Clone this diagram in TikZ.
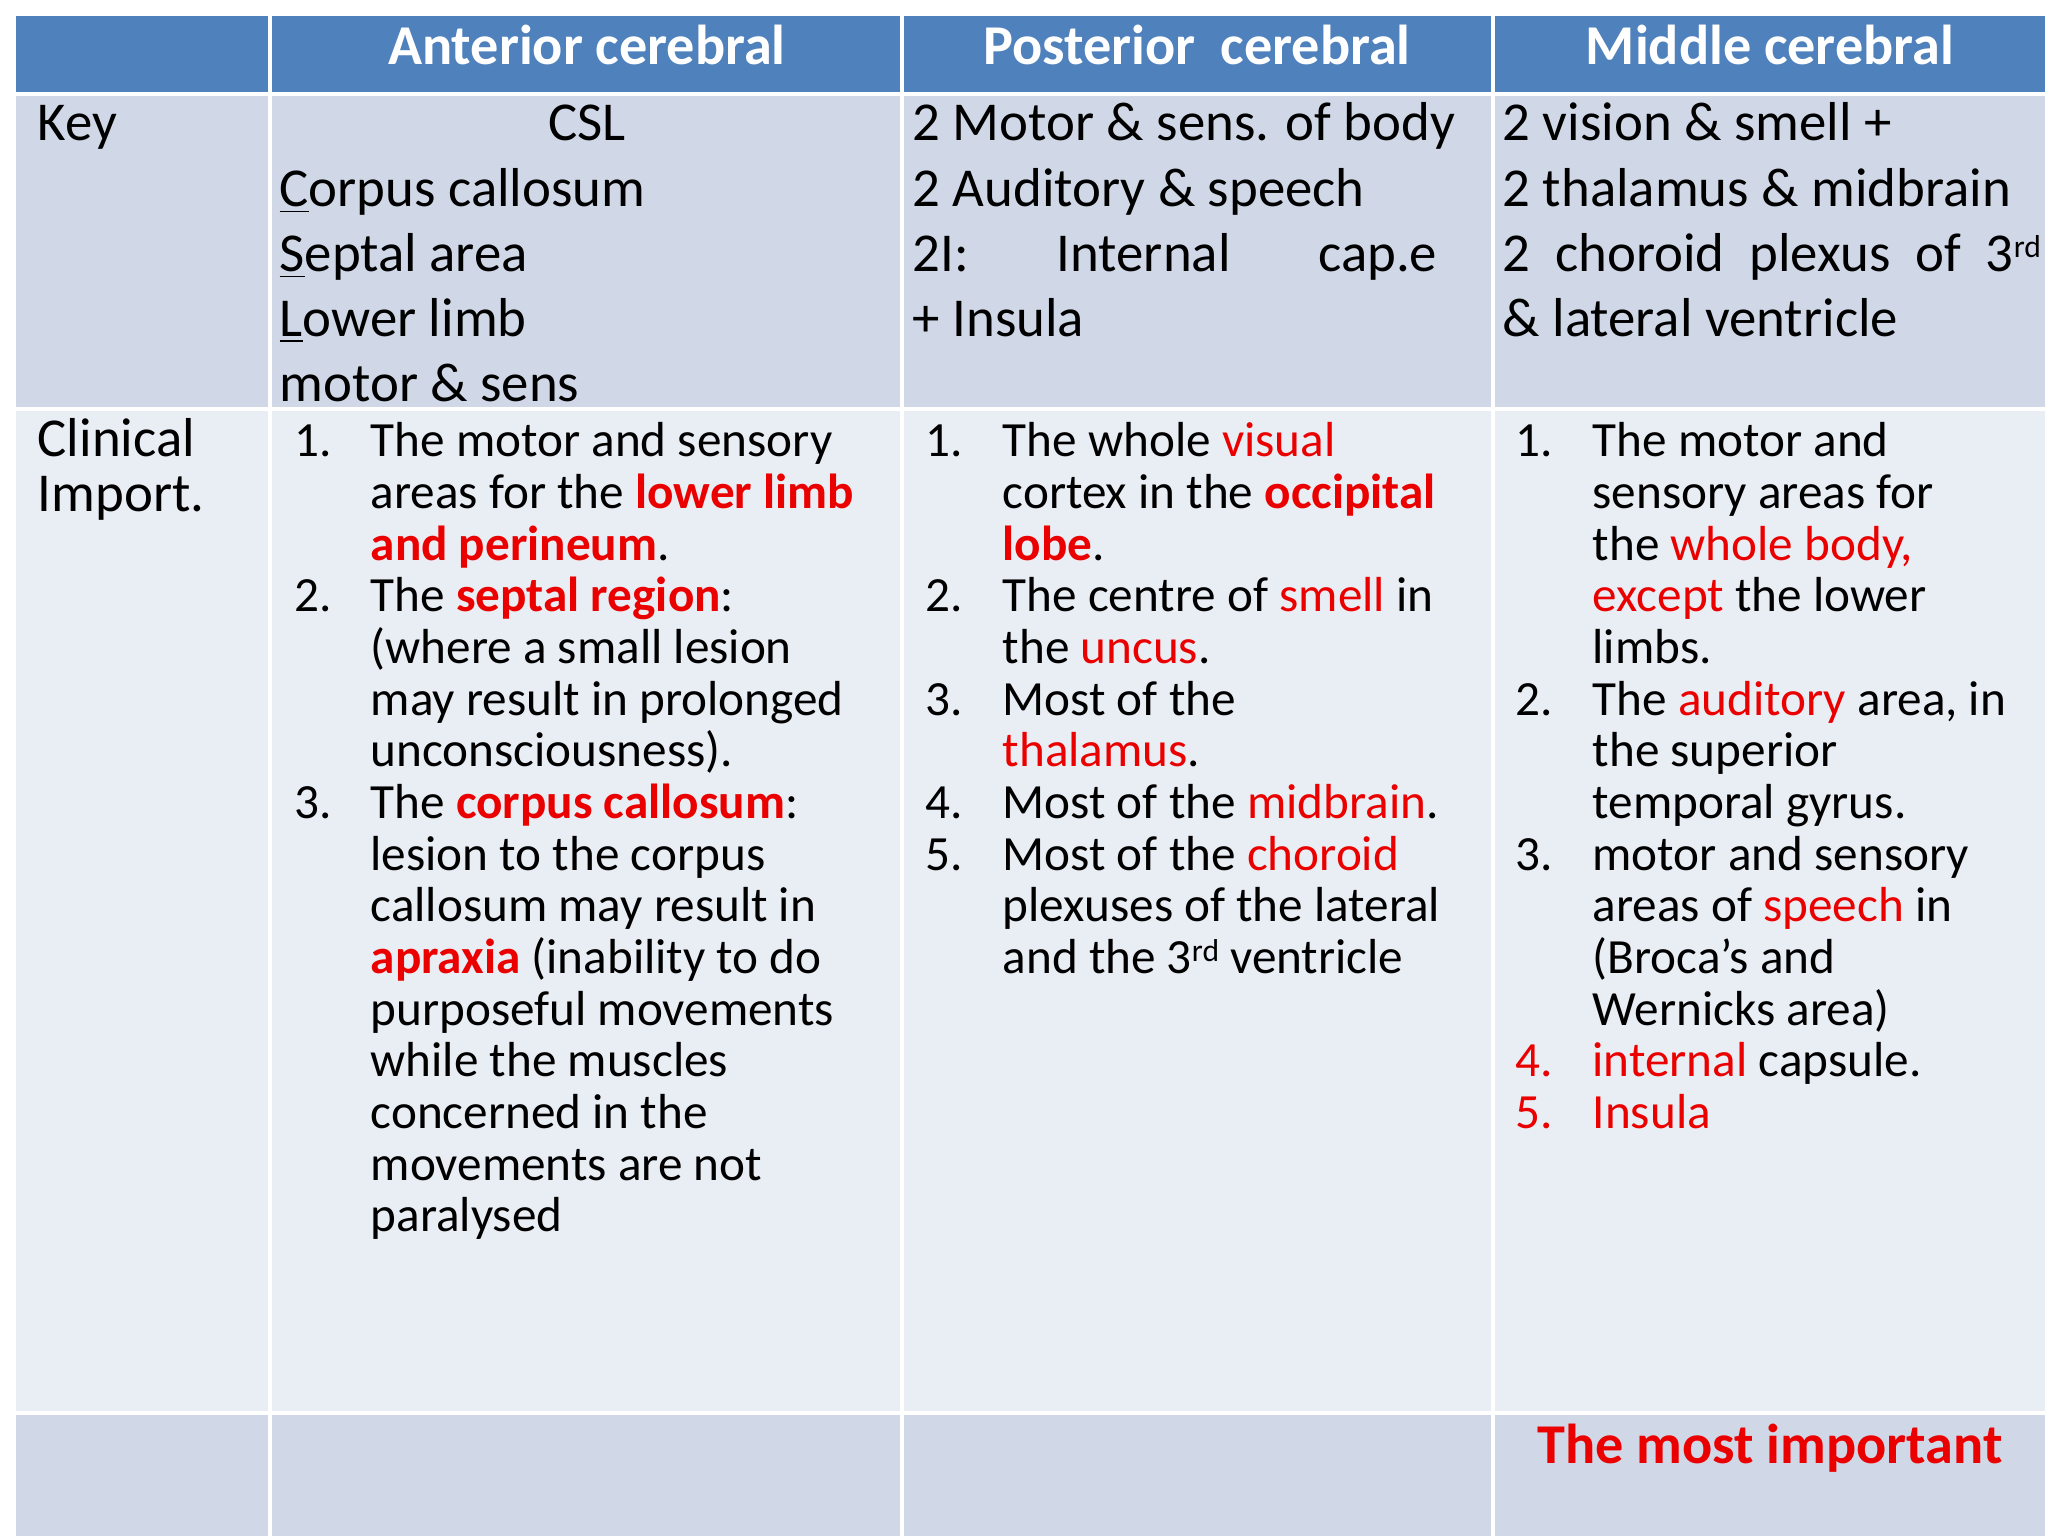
\documentclass[tikz,border=0pt]{standalone}
\usepackage{fontspec}
\setmainfont{Carlito}
\usepackage{array}
\definecolor{hb}{RGB}{79,129,189}
\definecolor{r1}{RGB}{208,216,232}
\definecolor{r2}{RGB}{233,237,244}
\definecolor{rd}{RGB}{235,0,0}
\newcommand{\R}[1]{\textcolor{rd}{#1}}
\newcommand{\RB}[1]{\textcolor{rd}{\textbf{#1}}}
\newcommand{\sups}[1]{\raisebox{0.5ex}{\fontsize{9}{9}\selectfont #1}}
\tikzset{hdr/.style={text=white,font=\fontsize{16}{18}\selectfont\bfseries,anchor=base},
keytxt/.style={anchor=base west,inner sep=0pt,font=\fontsize{15.6}{18.5}\selectfont,align=left},
clin/.style={anchor=base west,inner sep=0pt,font=\fontsize{14}{14.7}\selectfont}}
\begin{document}
\begin{tikzpicture}[x=1cm,y=1cm]
\useasboundingbox (0,0) rectangle (20.48,-15.36);
\fill[white] (0,0) rectangle (20.48,-15.36);
% rows
\fill[hb] (0.157,-0.157) rectangle (20.45,-0.94);
\fill[r1] (0.157,-0.94) rectangle (20.45,-4.09);
\fill[r2] (0.157,-4.09) rectangle (20.45,-14.13);
\fill[r1] (0.157,-14.13) rectangle (20.45,-15.36);
% grid lines
\draw[white,line width=1.2pt] (0.157,-0.94) -- (20.45,-0.94) (0.157,-4.09) -- (20.45,-4.09) (0.157,-14.13) -- (20.45,-14.13);
\foreach \x in {2.70,9.02,14.93} \draw[white,line width=1.2pt] (\x,-0.157) -- (\x,-15.36);
% header
\node[hdr] (h2) at (5.87,-0.65) {Anterior cerebral};
\node[hdr] (h3) at (11.97,-0.65) {Posterior\ \ cerebral};
\node[hdr] (h4) at (17.70,-0.65) {Middle cerebral};
% key row
\node[keytxt] (k1) at (0.37,-1.41) {Key};
\node[keytxt,anchor=base] (k2a) at (5.87,-1.41) {CSL};
\node[keytxt] (k2) at (2.79,-1.41) {\begin{tabular}[t]{@{}l@{}}\\ \underline{C}orpus callosum\\ \underline{S}eptal area\\ \underline{L}ower limb\\ motor \& sens\end{tabular}};
\node[keytxt] (k3) at (9.12,-1.41) {\begin{tabular}[t]{@{}l@{}}2 Motor \& sens. of body\\ 2 Auditory \& speech\\ 2I:\hspace{1.6em}Internal\hspace{1.6em}cap.e\\ + Insula\end{tabular}};
\node[keytxt] (k4) at (15.02,-1.41) {\begin{tabular}[t]{@{}l@{}}2 vision \& smell +\\ 2 thalamus \& midbrain\\ 2\ \ choroid\ \ plexus\ \ of\ \ 3\sups{rd}\\ \& lateral ventricle\end{tabular}};
% clinical row
\node[clin,font=\fontsize{15.6}{15.5}\selectfont] (c1) at (0.37,-4.57) {\begin{tabular}[t]{@{}l@{}}Clinical\\ Import.\end{tabular}};
\node[clin] (c2) at (2.94,-4.57) {\begin{tabular}[t]{@{}p{0.76cm}@{}l@{}}
1. & The motor and sensory\\
 & areas for the \RB{lower limb}\\
 & \RB{and perineum}.\\
2. & The \RB{septal region}:\\
 & (where a small lesion\\
 & may result in prolonged\\
 & unconsciousness).\\
3. & The \RB{corpus callosum}:\\
 & lesion to the corpus\\
 & callosum may result in\\
 & \RB{apraxia} (inability to do\\
 & purposeful movements\\
 & while the muscles\\
 & concerned in the\\
 & movements are not\\
 & paralysed\end{tabular}};
\node[clin] (c3) at (9.25,-4.57) {\begin{tabular}[t]{@{}p{0.77cm}@{}l@{}}
1. & The whole \R{visual}\\
 & cortex in the \RB{occipital}\\
 & \RB{lobe}.\\
2. & The centre of \R{smell} in\\
 & the \R{uncus}.\\
3. & Most of the\\
 & \R{thalamus}.\\
4. & Most of the \R{midbrain}.\\
5. & Most of the \R{choroid}\\
 & plexuses of the lateral\\
 & and the 3\sups{rd} ventricle\end{tabular}};
\node[clin] (c4) at (15.15,-4.57) {\begin{tabular}[t]{@{}p{0.77cm}@{}l@{}}
1. & The motor and\\
 & sensory areas for\\
 & the \R{whole body,}\\
 & \R{except} the lower\\
 & limbs.\\
2. & The \R{auditory} area, in\\
 & the superior\\
 & temporal gyrus.\\
3. & motor and sensory\\
 & areas of \R{speech} in\\
 & (Broca's and\\
 & Wernicks area)\\
\R{4.} & \R{internal} capsule.\\
\R{5.} & \R{Insula}\end{tabular}};
% bottom
\node[anchor=base,text=rd,font=\fontsize{16}{18}\selectfont\bfseries] (b4) at (17.70,-14.63) {The most important};
\end{tikzpicture}
\end{document}
